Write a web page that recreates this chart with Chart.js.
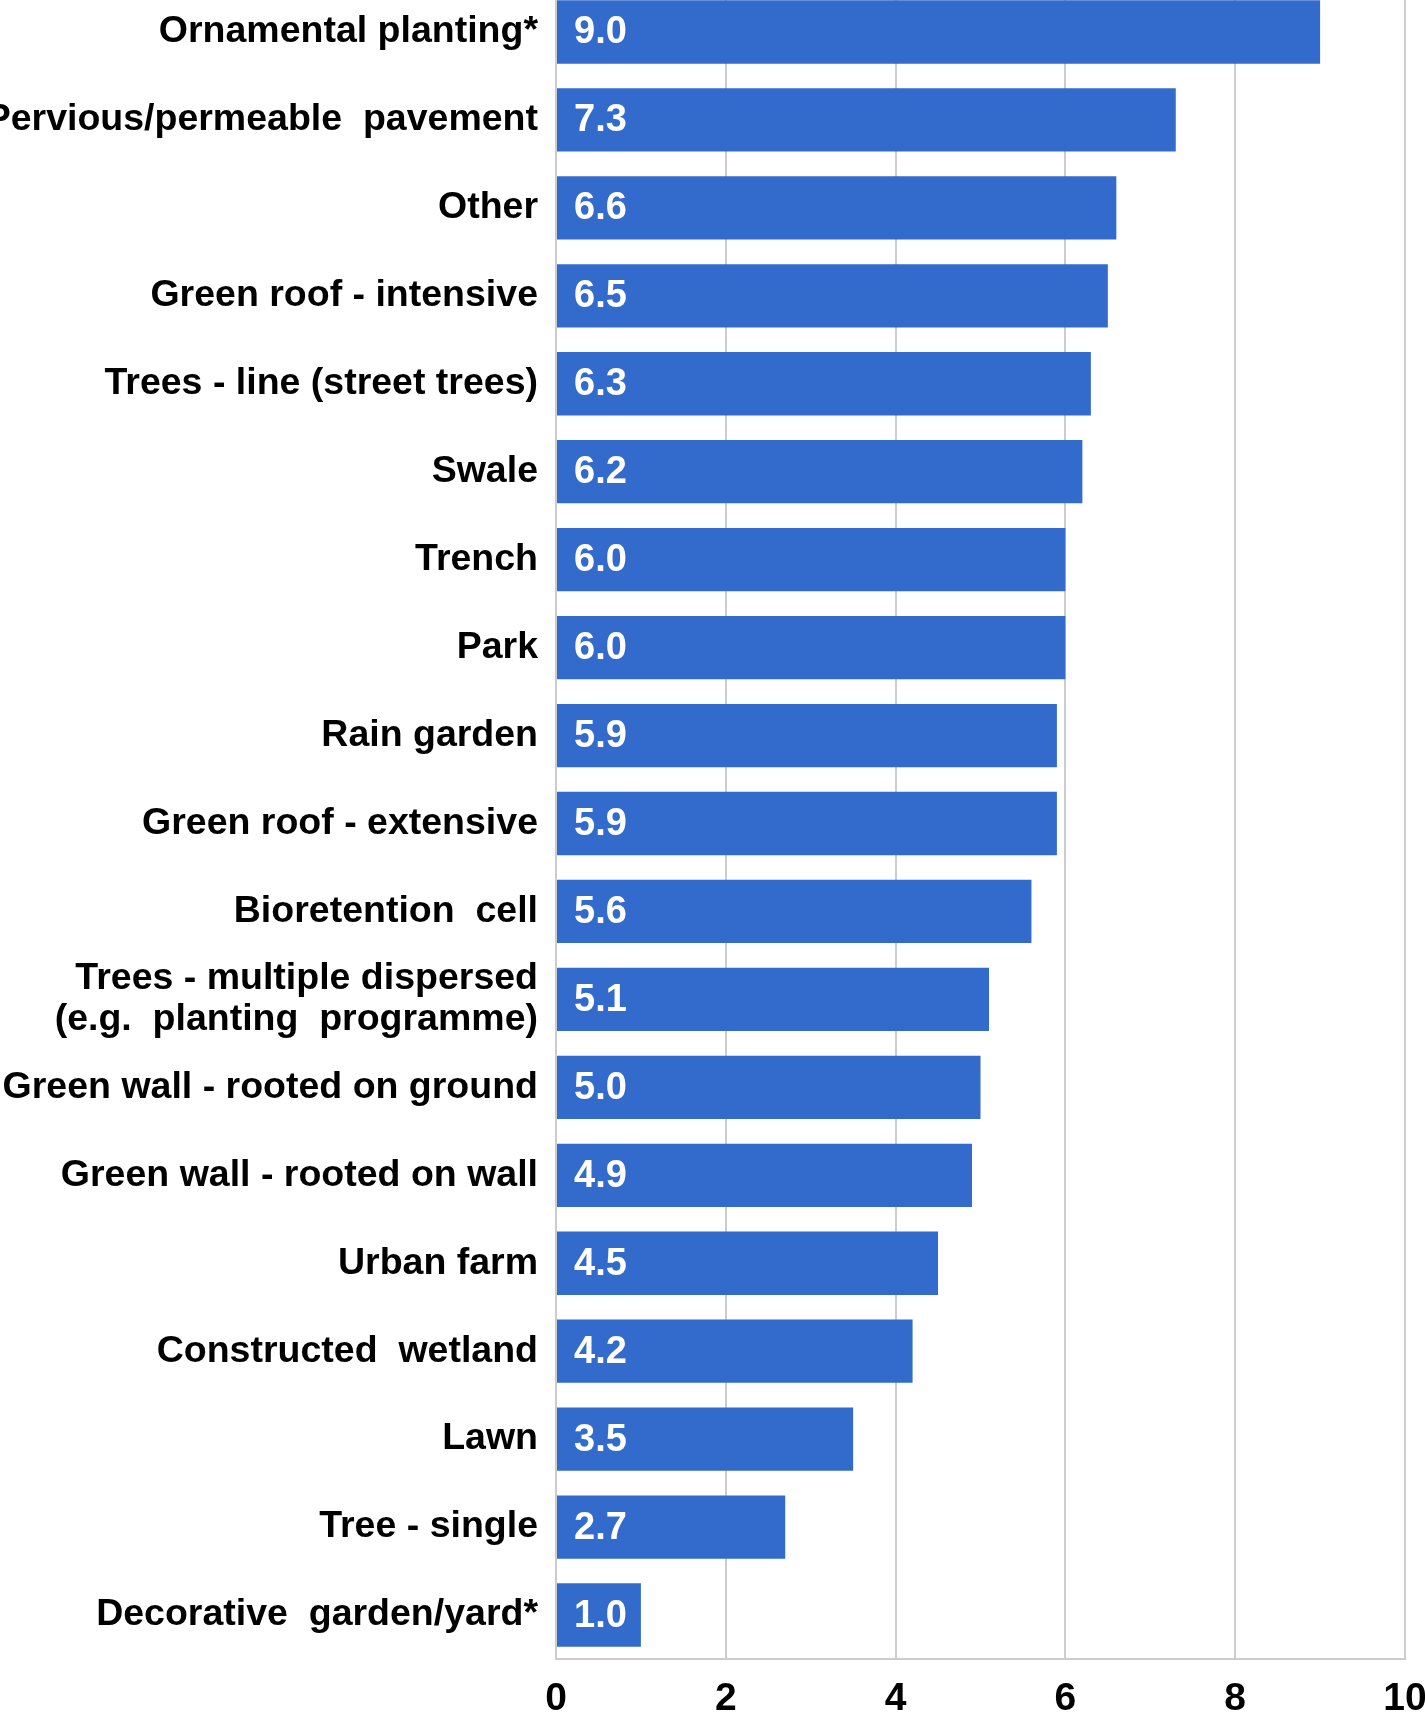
<!DOCTYPE html>
<html>
<head>
<meta charset="utf-8">
<script src="https://cdn.jsdelivr.net/npm/chart.js@4.4.1/dist/chart.umd.min.js"></script>
<style>
  html, body { margin: 0; padding: 0; background: #fff; overflow: hidden; }
  #wrap { position: relative; width: 1425px; height: 1714px; overflow: hidden; }
  #c { position: absolute; left: 0; top: -12px; }
</style>
</head>
<body>
<div id="wrap"><canvas id="c" width="1425" height="1728"></canvas></div>
<script>
  const categories = [
    'Ornamental planting*',
    'Pervious/permeable  pavement',
    'Other',
    'Green roof - intensive',
    'Trees - line (street trees)',
    'Swale',
    'Trench',
    'Park',
    'Rain garden',
    'Green roof - extensive',
    'Bioretention  cell',
    ['Trees - multiple dispersed', '(e.g.  planting  programme)'],
    'Green wall - rooted on ground',
    'Green wall - rooted on wall',
    'Urban farm',
    'Constructed  wetland',
    'Lawn',
    'Tree - single',
    'Decorative  garden/yard*'
  ];
  const scores = [9.0, 7.3, 6.6, 6.5, 6.3, 6.2, 6.0, 6.0, 5.9, 5.9, 5.6, 5.1, 5.0, 4.9, 4.5, 4.2, 3.5, 2.7, 1.0];
  const xTicks = [0, 2, 4, 6, 8, 10];

  const FONT = '"Liberation Sans", Arial, Helvetica, sans-serif';
  const BAR = '#336BCC';
  const GRID = '#CCCCCC';

  /* valeurs en blanc, dans la barre, à gauche */
  const valueLabels = {
    id: 'valueLabels',
    afterDatasetsDraw(chart) {
      const ctx = chart.ctx;
      const meta = chart.getDatasetMeta(0);
      ctx.save();
      ctx.fillStyle = '#fff';
      ctx.font = 'bold 38px ' + FONT;
      ctx.textAlign = 'left';
      ctx.textBaseline = 'middle';
      meta.data.forEach(function (bar, i) {
        ctx.fillText(scores[i].toFixed(1), bar.base + 17, bar.y + 1);
      });
      ctx.restore();
    }
  };

  new Chart(document.getElementById('c'), {
    type: 'bar',
    data: {
      labels: categories,
      datasets: [{ data: scores, backgroundColor: BAR, barPercentage: 0.72, categoryPercentage: 1 }]
    },
    options: {
      indexAxis: 'y',
      responsive: false,
      animation: false,
      devicePixelRatio: 1,
      layout: { padding: { left: 0, right: 20, top: 0, bottom: 0 } },
      plugins: { legend: { display: false }, tooltip: { enabled: false } },
      scales: {
        x: {
          min: 0, max: 10,
          afterBuildTicks: function (s) { s.ticks = xTicks.map(function (v) { return { value: v }; }); },
          afterFit: function (s) { s.height = 57; s.paddingLeft = 0; s.paddingRight = 0; },
          grid: { color: GRID, lineWidth: 2, drawTicks: false },
          border: { display: true, color: GRID, width: 2 },
          ticks: { color: '#000', padding: 17, maxRotation: 0, font: { family: FONT, size: 39, weight: 'bold' } }
        },
        y: {
          afterFit: function (s) { s.width = 556; s.paddingTop = 0; s.paddingBottom = 0; },
          grid: { display: false, drawTicks: false },
          border: { display: true, color: GRID, width: 2 },
          ticks: { color: '#000', padding: 18, font: { family: FONT, size: 37.5, weight: 'bold', lineHeight: 1.08 } }
        }
      }
    },
    plugins: [valueLabels]
  });
</script>
</body>
</html>
